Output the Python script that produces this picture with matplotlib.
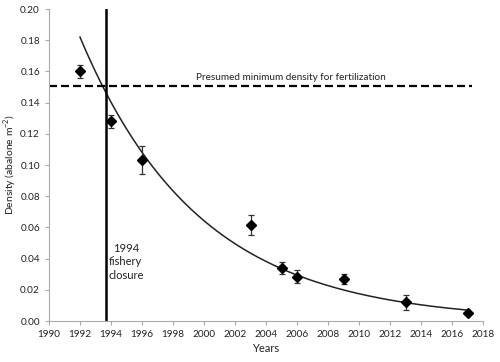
import numpy as np
import matplotlib
matplotlib.use("Agg")
import matplotlib.pyplot as plt

plt.rcParams['font.family'] = ['Lato', 'DejaVu Sans']
plt.rcParams['mathtext.fontset'] = 'custom'
plt.rcParams['mathtext.rm'] = 'Lato'

# observed densities (abalone per m2)
years = [1992, 1994, 1996, 2003, 2005, 2006, 2009, 2013, 2017]
density = [0.160, 0.128, 0.103, 0.0615, 0.034, 0.0285, 0.027, 0.012, 0.0055]
err = [0.004, 0.004, 0.009, 0.0065, 0.004, 0.004, 0.0035, 0.005, 0.001]

# exponential fit y = a*exp(-k*(t-1992))
fit_a = 0.182
fit_k = 0.130
fit_start, fit_end = 1992, 2017

closure_year = 1993.65
min_density = 0.1505

fig = plt.figure(figsize=(5.0, 3.62), dpi=100)
ax = fig.add_axes([0.098, 0.113, 0.868, 0.862])

t = np.linspace(fit_start, fit_end, 300)
ax.plot(t, fit_a*np.exp(-fit_k*(t - fit_start)), color='#222222', lw=1.1)

ax.errorbar(years, density, yerr=err, fmt='D', color='black', ms=5,
            ecolor='#333333', elinewidth=0.9, capsize=2, capthick=0.9)

ax.axvline(closure_year, color='black', lw=1.8)
ax.axhline(min_density, color='black', lw=1.6, ls=(0, (3.6, 1.8)), xmax=0.974)

ax.text(2005.6, 0.1535, 'Presumed minimum density for fertilization',
        ha='center', va='bottom', fontsize=7.2, color='#222222')
ax.text(1994.95, 0.038, '1994\nfishery\nclosure', ha='center', va='center',
        fontsize=8, color='#222222', linespacing=1.25)

ax.set_xlim(1990, 2018)
ax.set_ylim(0, 0.20)
ax.set_xticks(range(1990, 2019, 2))
ax.set_yticks(np.arange(0, 0.201, 0.02))
ax.set_yticklabels(['%.2f' % v for v in np.arange(0, 0.201, 0.02)])

for s in ['top', 'right']:
    ax.spines[s].set_visible(False)
for s in ['left', 'bottom']:
    ax.spines[s].set_color('#aaaaaa')
ax.tick_params(colors='#aaaaaa', labelcolor='#222222', labelsize=7.2, length=3)

ax.set_xlabel('Years', fontsize=8, color='#222222', labelpad=3)
ax.set_ylabel('Density (abalone m$^{-2}$)', fontsize=7.5, color='#222222')
ax.yaxis.set_label_coords(-0.07, 0.5)

fig.savefig('out.png', dpi=100)
